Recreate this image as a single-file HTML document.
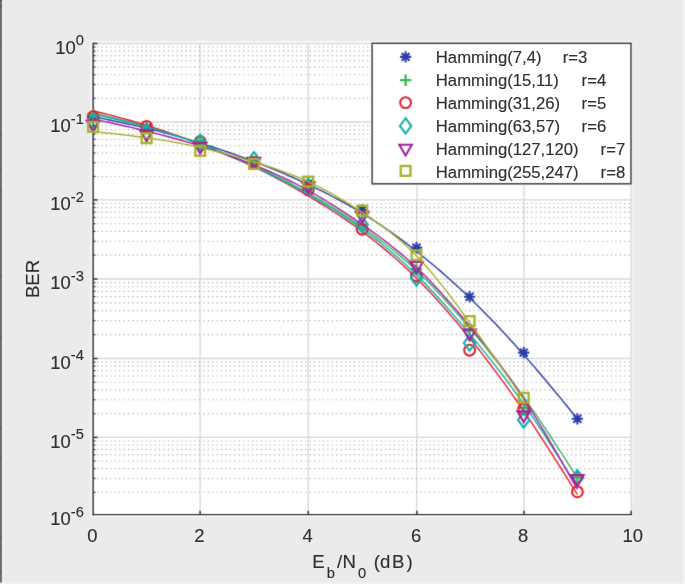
<!DOCTYPE html>
<html><head><meta charset="utf-8"><title>BER</title>
<style>html,body{margin:0;padding:0;background:#ebebeb;}body{width:685px;height:584px;overflow:hidden;position:relative;font-family:"Liberation Sans",sans-serif;}</style>
</head><body>
<svg width="685" height="584" viewBox="0 0 685 584" style="display:block;position:absolute;left:0;top:0"><defs><filter id="bl" x="0" y="0" width="100%" height="100%" filterUnits="userSpaceOnUse" color-interpolation-filters="sRGB"><feConvolveMatrix order="3" kernelMatrix="0.01440 0.09120 0.01440 0.09120 0.57760 0.09120 0.01440 0.09120 0.01440" edgeMode="duplicate" preserveAlpha="true"/></filter></defs><g filter="url(#bl)">
<rect width="685" height="584" fill="#ebebeb"/>
<rect x="0" y="0" width="2" height="583" fill="#696c6d"/>
<rect x="2" y="0" width="1.6" height="584" fill="#f4f4f4"/>
<rect x="0" y="0" width="2" height="1" fill="#4c4e4f"/>
<rect x="0" y="6" width="2" height="1.2" fill="#55585a"/>
<rect x="0" y="44.5" width="2" height="1.2" fill="#55585a"/>
<rect x="0" y="133.7" width="2" height="1.2" fill="#55585a"/>
<rect x="0" y="169.7" width="2" height="1.2" fill="#55585a"/>
<rect x="0" y="190.5" width="2" height="1.2" fill="#55585a"/>
<rect x="0" y="275.5" width="2" height="1.2" fill="#55585a"/>
<rect x="0" y="336.5" width="2" height="1.2" fill="#55585a"/>
<rect x="0" y="428" width="2" height="1.2" fill="#55585a"/>
<rect x="0" y="457.5" width="2" height="1.2" fill="#55585a"/>
<rect x="0" y="536.7" width="2" height="1.2" fill="#55585a"/>
<rect x="0" y="546" width="2" height="1.2" fill="#55585a"/>
<rect x="0" y="570.5" width="2" height="1.2" fill="#55585a"/>
<rect x="0" y="582.6" width="685" height="1.4" fill="#f3f3f3"/>
<rect x="683.4" y="0" width="1.6" height="584" fill="#f6f6f6"/>
<rect x="90.6" y="41.35" width="541.8000000000001" height="475.75000000000006" fill="#ffffff"/>
<g stroke="#d6d7d7" stroke-width="1.35" fill="none">
<path d="M200.10 43.45V514.60"/>
<path d="M308.30 43.45V514.60"/>
<path d="M416.80 43.45V514.60"/>
<path d="M523.90 43.45V514.60"/>
<path d="M631.20 43.45V514.60"/>
<path d="M93.10 43.45H631.20"/>
<path d="M93.10 122.00H631.20"/>
<path d="M93.10 199.90H631.20"/>
<path d="M93.10 279.00H631.20"/>
<path d="M93.10 358.50H631.20"/>
<path d="M93.10 437.40H631.20"/>
</g>
<g stroke="#a6a6a6" stroke-width="1.15" stroke-dasharray="1.15 3.28" fill="none">
<path d="M97.00 98.35H631.20"/>
<path d="M97.00 84.52H631.20"/>
<path d="M97.00 74.71H631.20"/>
<path d="M97.00 67.10H631.20"/>
<path d="M97.00 60.88H631.20"/>
<path d="M97.00 55.62H631.20"/>
<path d="M97.00 51.06H631.20"/>
<path d="M97.00 47.04H631.20"/>
<path d="M97.00 176.45H631.20"/>
<path d="M97.00 162.73H631.20"/>
<path d="M97.00 153.00H631.20"/>
<path d="M97.00 145.45H631.20"/>
<path d="M97.00 139.28H631.20"/>
<path d="M97.00 134.07H631.20"/>
<path d="M97.00 129.55H631.20"/>
<path d="M97.00 125.56H631.20"/>
<path d="M97.00 255.19H631.20"/>
<path d="M97.00 241.26H631.20"/>
<path d="M97.00 231.38H631.20"/>
<path d="M97.00 223.71H631.20"/>
<path d="M97.00 217.45H631.20"/>
<path d="M97.00 212.15H631.20"/>
<path d="M97.00 207.57H631.20"/>
<path d="M97.00 203.52H631.20"/>
<path d="M97.00 334.57H631.20"/>
<path d="M97.00 320.57H631.20"/>
<path d="M97.00 310.64H631.20"/>
<path d="M97.00 302.93H631.20"/>
<path d="M97.00 296.64H631.20"/>
<path d="M97.00 291.31H631.20"/>
<path d="M97.00 286.70H631.20"/>
<path d="M97.00 282.64H631.20"/>
<path d="M97.00 413.65H631.20"/>
<path d="M97.00 399.76H631.20"/>
<path d="M97.00 389.90H631.20"/>
<path d="M97.00 382.25H631.20"/>
<path d="M97.00 376.00H631.20"/>
<path d="M97.00 370.72H631.20"/>
<path d="M97.00 366.15H631.20"/>
<path d="M97.00 362.11H631.20"/>
<path d="M97.00 492.27H631.20"/>
<path d="M97.00 478.45H631.20"/>
<path d="M97.00 468.64H631.20"/>
<path d="M97.00 461.03H631.20"/>
<path d="M97.00 454.82H631.20"/>
<path d="M97.00 449.56H631.20"/>
<path d="M97.00 445.01H631.20"/>
<path d="M97.00 440.99H631.20"/>
</g>
<g stroke="#2c2e30" stroke-width="1.45" fill="none">
<path d="M93.10 42.75V515.30"/>
<path d="M92.40 514.60H631.90"/>
<path d="M200.10 514.60V510.80"/>
<path d="M308.30 514.60V510.80"/>
<path d="M416.80 514.60V510.80"/>
<path d="M523.90 514.60V510.80"/>
<path d="M631.20 514.60V510.80"/>
<path d="M93.10 43.45H97.50"/>
<path d="M93.10 122.00H97.50"/>
<path d="M93.10 199.90H97.50"/>
<path d="M93.10 279.00H97.50"/>
<path d="M93.10 358.50H97.50"/>
<path d="M93.10 437.40H97.50"/>
</g>
<g stroke="#2c2e30" stroke-width="1.2" fill="none">
<path d="M93.10 98.35H95.40"/>
<path d="M93.10 84.52H95.40"/>
<path d="M93.10 74.71H95.40"/>
<path d="M93.10 67.10H95.40"/>
<path d="M93.10 60.88H95.40"/>
<path d="M93.10 55.62H95.40"/>
<path d="M93.10 51.06H95.40"/>
<path d="M93.10 47.04H95.40"/>
<path d="M93.10 176.45H95.40"/>
<path d="M93.10 162.73H95.40"/>
<path d="M93.10 153.00H95.40"/>
<path d="M93.10 145.45H95.40"/>
<path d="M93.10 139.28H95.40"/>
<path d="M93.10 134.07H95.40"/>
<path d="M93.10 129.55H95.40"/>
<path d="M93.10 125.56H95.40"/>
<path d="M93.10 255.19H95.40"/>
<path d="M93.10 241.26H95.40"/>
<path d="M93.10 231.38H95.40"/>
<path d="M93.10 223.71H95.40"/>
<path d="M93.10 217.45H95.40"/>
<path d="M93.10 212.15H95.40"/>
<path d="M93.10 207.57H95.40"/>
<path d="M93.10 203.52H95.40"/>
<path d="M93.10 334.57H95.40"/>
<path d="M93.10 320.57H95.40"/>
<path d="M93.10 310.64H95.40"/>
<path d="M93.10 302.93H95.40"/>
<path d="M93.10 296.64H95.40"/>
<path d="M93.10 291.31H95.40"/>
<path d="M93.10 286.70H95.40"/>
<path d="M93.10 282.64H95.40"/>
<path d="M93.10 413.65H95.40"/>
<path d="M93.10 399.76H95.40"/>
<path d="M93.10 389.90H95.40"/>
<path d="M93.10 382.25H95.40"/>
<path d="M93.10 376.00H95.40"/>
<path d="M93.10 370.72H95.40"/>
<path d="M93.10 366.15H95.40"/>
<path d="M93.10 362.11H95.40"/>
<path d="M93.10 492.27H95.40"/>
<path d="M93.10 478.45H95.40"/>
<path d="M93.10 468.64H95.40"/>
<path d="M93.10 461.03H95.40"/>
<path d="M93.10 454.82H95.40"/>
<path d="M93.10 449.56H95.40"/>
<path d="M93.10 445.01H95.40"/>
<path d="M93.10 440.99H95.40"/>
</g>
<polyline points="93.1,116.7 98.5,117.8 104.0,118.9 109.4,120.0 114.9,121.1 120.3,122.3 125.7,123.5 131.2,124.6 136.6,125.9 142.1,127.1 147.5,128.4 153.0,129.8 158.4,131.1 163.8,132.5 169.3,134.0 174.7,135.5 180.2,137.0 185.6,138.6 191.0,140.2 196.5,141.9 201.9,143.5 207.4,145.3 212.8,147.0 218.3,148.8 223.7,150.6 229.1,152.5 234.6,154.4 240.0,156.3 245.5,158.3 250.9,160.3 256.3,162.4 261.8,164.5 267.2,166.7 272.7,168.9 278.1,171.1 283.6,173.4 289.0,175.8 294.4,178.2 299.9,180.6 305.3,183.1 310.8,185.7 316.2,188.3 321.6,190.9 327.1,193.7 332.5,196.5 338.0,199.3 343.4,202.3 348.9,205.3 354.3,208.5 359.7,211.7 365.2,215.0 370.6,218.5 376.1,222.0 381.5,225.6 386.9,229.4 392.4,233.2 397.8,237.1 403.3,241.1 408.7,245.2 414.2,249.5 419.6,253.8 425.0,258.2 430.5,262.7 435.9,267.2 441.4,271.9 446.8,276.7 452.2,281.6 457.7,286.6 463.1,291.6 468.6,296.8 474.0,302.1 479.5,307.5 484.9,312.9 490.3,318.5 495.8,324.1 501.2,329.9 506.7,335.8 512.1,341.7 517.5,347.8 523.0,353.9 528.4,360.1 533.9,366.4 539.3,372.8 544.8,379.3 550.2,385.8 555.6,392.3 561.1,398.9 566.5,405.5 572.0,412.2 577.4,418.8" stroke="#2a3da6" stroke-width="1.4" fill="none" stroke-linejoin="round"/>
<path d="M87.50 117.00H98.70M93.10 111.40V122.60M89.14 113.04L97.06 120.96M89.14 120.96L97.06 113.04" stroke="#2a3da6" stroke-width="2.1" fill="none"/>
<path d="M141.00 128.00H152.20M146.60 122.40V133.60M142.64 124.04L150.56 131.96M142.64 131.96L150.56 124.04" stroke="#2a3da6" stroke-width="2.1" fill="none"/>
<path d="M194.60 143.00H205.80M200.20 137.40V148.60M196.24 139.04L204.16 146.96M196.24 146.96L204.16 139.04" stroke="#2a3da6" stroke-width="2.1" fill="none"/>
<path d="M248.40 161.50H259.60M254.00 155.90V167.10M250.04 157.54L257.96 165.46M250.04 165.46L257.96 157.54" stroke="#2a3da6" stroke-width="2.1" fill="none"/>
<path d="M302.70 184.00H313.90M308.30 178.40V189.60M304.34 180.04L312.26 187.96M304.34 187.96L312.26 180.04" stroke="#2a3da6" stroke-width="2.1" fill="none"/>
<path d="M356.60 209.80H367.80M362.20 204.20V215.40M358.24 205.84L366.16 213.76M358.24 213.76L366.16 205.84" stroke="#2a3da6" stroke-width="2.1" fill="none"/>
<path d="M410.90 247.60H422.10M416.50 242.00V253.20M412.54 243.64L420.46 251.56M412.54 251.56L420.46 243.64" stroke="#2a3da6" stroke-width="2.1" fill="none"/>
<path d="M464.00 296.70H475.20M469.60 291.10V302.30M465.64 292.74L473.56 300.66M465.64 300.66L473.56 292.74" stroke="#2a3da6" stroke-width="2.1" fill="none"/>
<path d="M518.10 352.60H529.30M523.70 347.00V358.20M519.74 348.64L527.66 356.56M519.74 356.56L527.66 348.64" stroke="#2a3da6" stroke-width="2.1" fill="none"/>
<path d="M571.80 418.80H583.00M577.40 413.20V424.40M573.44 414.84L581.36 422.76M573.44 422.76L581.36 414.84" stroke="#2a3da6" stroke-width="2.1" fill="none"/>
<polyline points="93.1,113.3 98.5,114.5 104.0,115.8 109.4,117.0 114.9,118.3 120.3,119.6 125.7,120.9 131.2,122.2 136.6,123.6 142.1,125.1 147.5,126.6 153.0,128.1 158.4,129.7 163.8,131.4 169.3,133.1 174.7,134.8 180.2,136.7 185.6,138.5 191.0,140.5 196.5,142.4 201.9,144.4 207.4,146.5 212.8,148.6 218.3,150.8 223.7,153.0 229.1,155.2 234.6,157.5 240.0,159.8 245.5,162.2 250.9,164.6 256.3,167.1 261.8,169.5 267.2,172.1 272.7,174.6 278.1,177.3 283.6,179.9 289.0,182.7 294.4,185.5 299.9,188.4 305.3,191.3 310.8,194.4 316.2,197.5 321.6,200.7 327.1,204.0 332.5,207.4 338.0,210.8 343.4,214.3 348.9,217.9 354.3,221.6 359.7,225.3 365.2,229.1 370.6,233.0 376.1,236.9 381.5,241.0 386.9,245.2 392.4,249.5 397.8,254.0 403.3,258.6 408.7,263.3 414.2,268.3 419.6,273.5 425.0,278.8 430.5,284.3 435.9,290.0 441.4,295.8 446.8,301.8 452.2,307.9 457.7,314.1 463.1,320.4 468.6,326.8 474.0,333.2 479.5,339.8 484.9,346.4 490.3,353.2 495.8,360.0 501.2,367.0 506.7,374.1 512.1,381.3 517.5,388.7 523.0,396.2 528.4,403.9 533.9,411.7 539.3,419.7 544.8,427.8 550.2,436.0 555.6,444.3 561.1,452.7 566.5,461.1 572.0,469.5 577.4,478.0" stroke="#3db45a" stroke-width="1.4" fill="none" stroke-linejoin="round"/>
<path d="M87.40 115.00H98.80M93.10 109.30V120.70" stroke="#3db45a" stroke-width="2.3000000000000003" fill="none"/>
<path d="M140.90 127.00H152.30M146.60 121.30V132.70" stroke="#3db45a" stroke-width="2.3000000000000003" fill="none"/>
<path d="M194.50 141.00H205.90M200.20 135.30V146.70" stroke="#3db45a" stroke-width="2.3000000000000003" fill="none"/>
<path d="M248.30 162.00H259.70M254.00 156.30V167.70" stroke="#3db45a" stroke-width="2.3000000000000003" fill="none"/>
<path d="M302.60 188.00H314.00M308.30 182.30V193.70" stroke="#3db45a" stroke-width="2.3000000000000003" fill="none"/>
<path d="M356.50 226.00H367.90M362.20 220.30V231.70" stroke="#3db45a" stroke-width="2.3000000000000003" fill="none"/>
<path d="M410.80 269.20H422.20M416.50 263.50V274.90" stroke="#3db45a" stroke-width="2.3000000000000003" fill="none"/>
<path d="M463.90 330.00H475.30M469.60 324.30V335.70" stroke="#3db45a" stroke-width="2.3000000000000003" fill="none"/>
<path d="M518.00 408.00H529.40M523.70 402.30V413.70" stroke="#3db45a" stroke-width="2.3000000000000003" fill="none"/>
<path d="M571.70 477.50H583.10M577.40 471.80V483.20" stroke="#3db45a" stroke-width="2.3000000000000003" fill="none"/>
<polyline points="93.1,110.8 98.5,112.2 104.0,113.5 109.4,114.9 114.9,116.3 120.3,117.8 125.7,119.2 131.2,120.7 136.6,122.3 142.1,123.9 147.5,125.6 153.0,127.3 158.4,129.1 163.8,131.0 169.3,132.9 174.7,134.9 180.2,136.9 185.6,138.9 191.0,141.0 196.5,143.1 201.9,145.2 207.4,147.3 212.8,149.4 218.3,151.6 223.7,153.8 229.1,156.0 234.6,158.3 240.0,160.7 245.5,163.1 250.9,165.6 256.3,168.1 261.8,170.7 267.2,173.4 272.7,176.2 278.1,179.1 283.6,182.0 289.0,184.9 294.4,188.0 299.9,191.1 305.3,194.2 310.8,197.5 316.2,200.7 321.6,204.1 327.1,207.5 332.5,211.0 338.0,214.5 343.4,218.2 348.9,221.9 354.3,225.7 359.7,229.7 365.2,233.7 370.6,237.9 376.1,242.2 381.5,246.6 386.9,251.1 392.4,255.8 397.8,260.6 403.3,265.5 408.7,270.6 414.2,275.9 419.6,281.3 425.0,286.9 430.5,292.6 435.9,298.5 441.4,304.6 446.8,310.7 452.2,317.1 457.7,323.5 463.1,330.0 468.6,336.7 474.0,343.5 479.5,350.4 484.9,357.4 490.3,364.5 495.8,371.8 501.2,379.1 506.7,386.6 512.1,394.3 517.5,402.0 523.0,409.9 528.4,418.0 533.9,426.2 539.3,434.5 544.8,442.8 550.2,451.3 555.6,459.9 561.1,468.5 566.5,477.1 572.0,485.8 577.4,494.5" stroke="#e3212d" stroke-width="1.4" fill="none" stroke-linejoin="round"/>
<circle cx="93.10" cy="116.80" r="5.4" stroke="#e3212d" stroke-width="2.1" fill="none"/>
<circle cx="146.60" cy="126.40" r="5.4" stroke="#e3212d" stroke-width="2.1" fill="none"/>
<circle cx="200.20" cy="141.50" r="5.4" stroke="#e3212d" stroke-width="2.1" fill="none"/>
<circle cx="254.00" cy="162.50" r="5.4" stroke="#e3212d" stroke-width="2.1" fill="none"/>
<circle cx="308.30" cy="190.00" r="5.4" stroke="#e3212d" stroke-width="2.1" fill="none"/>
<circle cx="362.20" cy="229.20" r="5.4" stroke="#e3212d" stroke-width="2.1" fill="none"/>
<circle cx="416.50" cy="276.00" r="5.4" stroke="#e3212d" stroke-width="2.1" fill="none"/>
<circle cx="469.60" cy="350.20" r="5.4" stroke="#e3212d" stroke-width="2.1" fill="none"/>
<circle cx="523.70" cy="409.00" r="5.4" stroke="#e3212d" stroke-width="2.1" fill="none"/>
<circle cx="577.40" cy="491.80" r="5.4" stroke="#e3212d" stroke-width="2.1" fill="none"/>
<polyline points="93.1,114.2 98.5,115.4 104.0,116.6 109.4,117.8 114.9,119.0 120.3,120.2 125.7,121.5 131.2,122.8 136.6,124.2 142.1,125.6 147.5,127.1 153.0,128.6 158.4,130.2 163.8,131.8 169.3,133.5 174.7,135.3 180.2,137.1 185.6,139.0 191.0,140.9 196.5,142.8 201.9,144.8 207.4,146.9 212.8,149.0 218.3,151.1 223.7,153.3 229.1,155.6 234.6,157.9 240.0,160.2 245.5,162.6 250.9,165.1 256.3,167.6 261.8,170.2 267.2,172.8 272.7,175.5 278.1,178.2 283.6,181.0 289.0,183.9 294.4,186.8 299.9,189.8 305.3,192.8 310.8,195.9 316.2,199.1 321.6,202.3 327.1,205.6 332.5,209.0 338.0,212.4 343.4,216.0 348.9,219.6 354.3,223.4 359.7,227.2 365.2,231.2 370.6,235.2 376.1,239.4 381.5,243.8 386.9,248.2 392.4,252.8 397.8,257.5 403.3,262.4 408.7,267.5 414.2,272.7 419.6,278.1 425.0,283.6 430.5,289.4 435.9,295.2 441.4,301.2 446.8,307.3 452.2,313.6 457.7,319.9 463.1,326.3 468.6,332.8 474.0,339.3 479.5,345.9 484.9,352.6 490.3,359.4 495.8,366.3 501.2,373.4 506.7,380.5 512.1,387.8 517.5,395.3 523.0,403.0 528.4,410.8 533.9,418.8 539.3,427.0 544.8,435.3 550.2,443.8 555.6,452.3 561.1,460.9 566.5,469.6 572.0,478.3 577.4,487.0" stroke="#16adad" stroke-width="1.4" fill="none" stroke-linejoin="round"/>
<path d="M93.10 113.60L98.80 121.30L93.10 129.00L87.40 121.30Z" stroke="#16adad" stroke-width="2.1" fill="none" stroke-linejoin="miter"/>
<path d="M146.60 124.30L152.30 132.00L146.60 139.70L140.90 132.00Z" stroke="#16adad" stroke-width="2.1" fill="none" stroke-linejoin="miter"/>
<path d="M200.20 134.50L205.90 142.20L200.20 149.90L194.50 142.20Z" stroke="#16adad" stroke-width="2.1" fill="none" stroke-linejoin="miter"/>
<path d="M254.00 152.10L259.70 159.80L254.00 167.50L248.30 159.80Z" stroke="#16adad" stroke-width="2.1" fill="none" stroke-linejoin="miter"/>
<path d="M308.30 178.60L314.00 186.30L308.30 194.00L302.60 186.30Z" stroke="#16adad" stroke-width="2.1" fill="none" stroke-linejoin="miter"/>
<path d="M362.20 217.10L367.90 224.80L362.20 232.50L356.50 224.80Z" stroke="#16adad" stroke-width="2.1" fill="none" stroke-linejoin="miter"/>
<path d="M416.50 270.30L422.20 278.00L416.50 285.70L410.80 278.00Z" stroke="#16adad" stroke-width="2.1" fill="none" stroke-linejoin="miter"/>
<path d="M469.60 335.30L475.30 343.00L469.60 350.70L463.90 343.00Z" stroke="#16adad" stroke-width="2.1" fill="none" stroke-linejoin="miter"/>
<path d="M523.70 412.30L529.40 420.00L523.70 427.70L518.00 420.00Z" stroke="#16adad" stroke-width="2.1" fill="none" stroke-linejoin="miter"/>
<path d="M577.40 470.10L583.10 477.80L577.40 485.50L571.70 477.80Z" stroke="#16adad" stroke-width="2.1" fill="none" stroke-linejoin="miter"/>
<polyline points="93.1,119.0 98.5,120.2 104.0,121.4 109.4,122.5 114.9,123.7 120.3,125.0 125.7,126.2 131.2,127.4 136.6,128.7 142.1,130.0 147.5,131.3 153.0,132.7 158.4,134.1 163.8,135.5 169.3,137.0 174.7,138.5 180.2,140.0 185.6,141.6 191.0,143.2 196.5,144.9 201.9,146.5 207.4,148.3 212.8,150.0 218.3,151.9 223.7,153.7 229.1,155.6 234.6,157.6 240.0,159.6 245.5,161.6 250.9,163.8 256.3,165.9 261.8,168.2 267.2,170.5 272.7,172.9 278.1,175.3 283.6,177.9 289.0,180.5 294.4,183.2 299.9,186.0 305.3,188.9 310.8,191.9 316.2,195.0 321.6,198.2 327.1,201.5 332.5,204.8 338.0,208.3 343.4,211.8 348.9,215.4 354.3,219.1 359.7,222.8 365.2,226.6 370.6,230.4 376.1,234.3 381.5,238.3 386.9,242.4 392.4,246.7 397.8,251.1 403.3,255.6 408.7,260.4 414.2,265.3 419.6,270.5 425.0,275.8 430.5,281.4 435.9,287.2 441.4,293.1 446.8,299.2 452.2,305.4 457.7,311.7 463.1,318.2 468.6,324.7 474.0,331.4 479.5,338.1 484.9,344.9 490.3,351.9 495.8,359.0 501.2,366.3 506.7,373.8 512.1,381.4 517.5,389.4 523.0,397.5 528.4,405.9 533.9,414.6 539.3,423.5 544.8,432.6 550.2,441.8 555.6,451.2 561.1,460.7 566.5,470.2 572.0,479.8 577.4,489.5" stroke="#a3239c" stroke-width="1.4" fill="none" stroke-linejoin="round"/>
<path d="M86.80 120.90H99.40L93.10 131.70Z" stroke="#a3239c" stroke-width="2.1" fill="none" stroke-linejoin="miter"/>
<path d="M140.30 130.60H152.90L146.60 141.40Z" stroke="#a3239c" stroke-width="2.1" fill="none" stroke-linejoin="miter"/>
<path d="M193.90 142.90H206.50L200.20 153.70Z" stroke="#a3239c" stroke-width="2.1" fill="none" stroke-linejoin="miter"/>
<path d="M247.70 157.90H260.30L254.00 168.70Z" stroke="#a3239c" stroke-width="2.1" fill="none" stroke-linejoin="miter"/>
<path d="M302.00 182.40H314.60L308.30 193.20Z" stroke="#a3239c" stroke-width="2.1" fill="none" stroke-linejoin="miter"/>
<path d="M355.90 211.90H368.50L362.20 222.70Z" stroke="#a3239c" stroke-width="2.1" fill="none" stroke-linejoin="miter"/>
<path d="M410.20 262.00H422.80L416.50 272.80Z" stroke="#a3239c" stroke-width="2.1" fill="none" stroke-linejoin="miter"/>
<path d="M463.30 329.60H475.90L469.60 340.40Z" stroke="#a3239c" stroke-width="2.1" fill="none" stroke-linejoin="miter"/>
<path d="M517.40 411.40H530.00L523.70 422.20Z" stroke="#a3239c" stroke-width="2.1" fill="none" stroke-linejoin="miter"/>
<path d="M571.10 475.10H583.70L577.40 485.90Z" stroke="#a3239c" stroke-width="2.1" fill="none" stroke-linejoin="miter"/>
<polyline points="93.1,131.5 98.6,132.1 104.0,132.7 109.5,133.3 114.9,133.9 120.4,134.5 125.8,135.1 131.3,135.8 136.7,136.5 142.2,137.2 147.6,137.9 153.1,138.7 158.5,139.6 164.0,140.4 169.4,141.4 174.9,142.3 180.3,143.4 185.8,144.4 191.2,145.5 196.7,146.7 202.1,147.9 207.6,149.2 213.0,150.6 218.5,151.9 223.9,153.4 229.4,154.8 234.8,156.4 240.3,157.9 245.7,159.5 251.2,161.1 256.6,162.8 262.1,164.5 267.5,166.2 273.0,168.0 278.4,169.9 283.9,171.8 289.3,173.9 294.8,176.0 300.2,178.2 305.7,180.6 311.1,183.1 316.6,185.8 322.0,188.5 327.5,191.4 332.9,194.4 338.4,197.6 343.8,200.8 349.3,204.1 354.7,207.5 360.2,211.0 365.6,214.6 371.1,218.2 376.5,222.0 382.0,225.9 387.4,230.0 392.9,234.3 398.3,238.8 403.8,243.5 409.2,248.6 414.7,253.9 420.1,259.6 425.6,265.7 431.0,272.0 436.5,278.6 441.9,285.4 447.4,292.4 452.8,299.6 458.3,306.9 463.7,314.4 469.2,321.9 474.6,329.5 480.1,337.2 485.5,344.9 491.0,352.6 496.4,360.3 501.9,368.1 507.3,375.9 512.8,383.7 518.2,391.6 523.7,399.4" stroke="#a7b02a" stroke-width="1.4" fill="none" stroke-linejoin="round"/>
<rect x="88.20" y="121.90" width="9.80" height="9.80" stroke="#a7b02a" stroke-width="2.3000000000000003" fill="none"/>
<rect x="141.70" y="133.30" width="9.80" height="9.80" stroke="#a7b02a" stroke-width="2.3000000000000003" fill="none"/>
<rect x="195.30" y="145.90" width="9.80" height="9.80" stroke="#a7b02a" stroke-width="2.3000000000000003" fill="none"/>
<rect x="249.10" y="159.00" width="9.80" height="9.80" stroke="#a7b02a" stroke-width="2.3000000000000003" fill="none"/>
<rect x="303.40" y="176.70" width="9.80" height="9.80" stroke="#a7b02a" stroke-width="2.3000000000000003" fill="none"/>
<rect x="357.30" y="205.70" width="9.80" height="9.80" stroke="#a7b02a" stroke-width="2.3000000000000003" fill="none"/>
<rect x="411.60" y="250.40" width="9.80" height="9.80" stroke="#a7b02a" stroke-width="2.3000000000000003" fill="none"/>
<rect x="464.70" y="316.20" width="9.80" height="9.80" stroke="#a7b02a" stroke-width="2.3000000000000003" fill="none"/>
<rect x="518.80" y="392.90" width="9.80" height="9.80" stroke="#a7b02a" stroke-width="2.3000000000000003" fill="none"/>
<rect x="370.6" y="41.699999999999996" width="261.5" height="143.7" fill="#fff"/>
<rect x="372.1" y="43.3" width="258.9" height="140.5" fill="#fff" stroke="#3c3f41" stroke-width="1.5"/>
<path d="M400.00 56.90H411.20M405.60 51.30V62.50M401.64 52.94L409.56 60.86M401.64 60.86L409.56 52.94" stroke="#2a3da6" stroke-width="2.1" fill="none"/>
<path d="M399.90 80.20H411.30M405.60 74.50V85.90" stroke="#3db45a" stroke-width="2.3000000000000003" fill="none"/>
<circle cx="405.60" cy="102.60" r="5.4" stroke="#e3212d" stroke-width="2.1" fill="none"/>
<path d="M405.60 118.20L411.30 125.90L405.60 133.60L399.90 125.90Z" stroke="#16adad" stroke-width="2.1" fill="none" stroke-linejoin="miter"/>
<path d="M399.30 144.70H411.90L405.60 155.50Z" stroke="#a3239c" stroke-width="2.1" fill="none" stroke-linejoin="miter"/>
<rect x="400.70" y="166.00" width="9.80" height="9.80" stroke="#a7b02a" stroke-width="2.3000000000000003" fill="none"/>
</g>
<text x="435.8" y="62.70" font-family="Liberation Sans, Arial, Helvetica, sans-serif" stroke="#303030" stroke-width="0.15" font-size="16.7" fill="#303030" style="white-space:pre">Hamming(7,4)     <tspan x="562.7">r=3</tspan></text>
<text x="435.8" y="85.60" font-family="Liberation Sans, Arial, Helvetica, sans-serif" stroke="#303030" stroke-width="0.15" font-size="16.7" fill="#303030" style="white-space:pre">Hamming(15,11)     <tspan x="581.6">r=4</tspan></text>
<text x="435.8" y="109.30" font-family="Liberation Sans, Arial, Helvetica, sans-serif" stroke="#303030" stroke-width="0.15" font-size="16.7" fill="#303030" style="white-space:pre">Hamming(31,26)     <tspan x="581.6">r=5</tspan></text>
<text x="435.8" y="131.90" font-family="Liberation Sans, Arial, Helvetica, sans-serif" stroke="#303030" stroke-width="0.15" font-size="16.7" fill="#303030" style="white-space:pre">Hamming(63,57)     <tspan x="581.6">r=6</tspan></text>
<text x="435.8" y="155.30" font-family="Liberation Sans, Arial, Helvetica, sans-serif" stroke="#303030" stroke-width="0.15" font-size="16.7" fill="#303030" style="white-space:pre">Hamming(127,120)     <tspan x="600.6">r=7</tspan></text>
<text x="435.8" y="177.60" font-family="Liberation Sans, Arial, Helvetica, sans-serif" stroke="#303030" stroke-width="0.15" font-size="16.7" fill="#303030" style="white-space:pre">Hamming(255,247)     <tspan x="600.6">r=8</tspan></text>
<text x="55.30" y="53.65" font-family="Liberation Sans, Arial, Helvetica, sans-serif" stroke="#303030" stroke-width="0.15" font-size="18.4" fill="#303030">10<tspan font-size="14.7" dy="-8.6">0</tspan></text>
<text x="50.30" y="132.20" font-family="Liberation Sans, Arial, Helvetica, sans-serif" stroke="#303030" stroke-width="0.15" font-size="18.4" fill="#303030">10<tspan font-size="14.7" dy="-8.6">-1</tspan></text>
<text x="50.30" y="210.10" font-family="Liberation Sans, Arial, Helvetica, sans-serif" stroke="#303030" stroke-width="0.15" font-size="18.4" fill="#303030">10<tspan font-size="14.7" dy="-8.6">-2</tspan></text>
<text x="50.30" y="289.20" font-family="Liberation Sans, Arial, Helvetica, sans-serif" stroke="#303030" stroke-width="0.15" font-size="18.4" fill="#303030">10<tspan font-size="14.7" dy="-8.6">-3</tspan></text>
<text x="50.30" y="368.70" font-family="Liberation Sans, Arial, Helvetica, sans-serif" stroke="#303030" stroke-width="0.15" font-size="18.4" fill="#303030">10<tspan font-size="14.7" dy="-8.6">-4</tspan></text>
<text x="50.30" y="447.60" font-family="Liberation Sans, Arial, Helvetica, sans-serif" stroke="#303030" stroke-width="0.15" font-size="18.4" fill="#303030">10<tspan font-size="14.7" dy="-8.6">-5</tspan></text>
<text x="50.30" y="525.20" font-family="Liberation Sans, Arial, Helvetica, sans-serif" stroke="#303030" stroke-width="0.15" font-size="18.4" fill="#303030">10<tspan font-size="14.7" dy="-8.6">-6</tspan></text>
<text x="92.30" y="541.5" font-family="Liberation Sans, Arial, Helvetica, sans-serif" stroke="#303030" stroke-width="0.15" font-size="18.4" fill="#303030" text-anchor="middle">0</text>
<text x="199.30" y="541.5" font-family="Liberation Sans, Arial, Helvetica, sans-serif" stroke="#303030" stroke-width="0.15" font-size="18.4" fill="#303030" text-anchor="middle">2</text>
<text x="307.50" y="541.5" font-family="Liberation Sans, Arial, Helvetica, sans-serif" stroke="#303030" stroke-width="0.15" font-size="18.4" fill="#303030" text-anchor="middle">4</text>
<text x="416.00" y="541.5" font-family="Liberation Sans, Arial, Helvetica, sans-serif" stroke="#303030" stroke-width="0.15" font-size="18.4" fill="#303030" text-anchor="middle">6</text>
<text x="523.10" y="541.5" font-family="Liberation Sans, Arial, Helvetica, sans-serif" stroke="#303030" stroke-width="0.15" font-size="18.4" fill="#303030" text-anchor="middle">8</text>
<text x="632.80" y="541.5" font-family="Liberation Sans, Arial, Helvetica, sans-serif" stroke="#303030" stroke-width="0.15" font-size="18.4" fill="#303030" text-anchor="middle">10</text>
<text y="568.3" font-family="Liberation Sans, Arial, Helvetica, sans-serif" stroke="#303030" stroke-width="0.15" font-size="18.6" fill="#303030" style="white-space:pre"><tspan x="312.2">E</tspan><tspan x="326.7" y="578.2" font-size="14.7">b</tspan><tspan x="336.9" y="568.3">/</tspan><tspan x="342.4">N</tspan><tspan x="358.0" y="578.2" font-size="14.7">0</tspan><tspan y="568.3"> </tspan><tspan x="373.8">(d</tspan><tspan x="391.9">B</tspan><tspan x="406.4">)</tspan></text>
<text transform="translate(38.7 279) rotate(-90)" font-family="Liberation Sans, Arial, Helvetica, sans-serif" stroke="#303030" stroke-width="0.15" font-size="18.6" fill="#303030" text-anchor="middle">BER</text>
</svg>
</body></html>
